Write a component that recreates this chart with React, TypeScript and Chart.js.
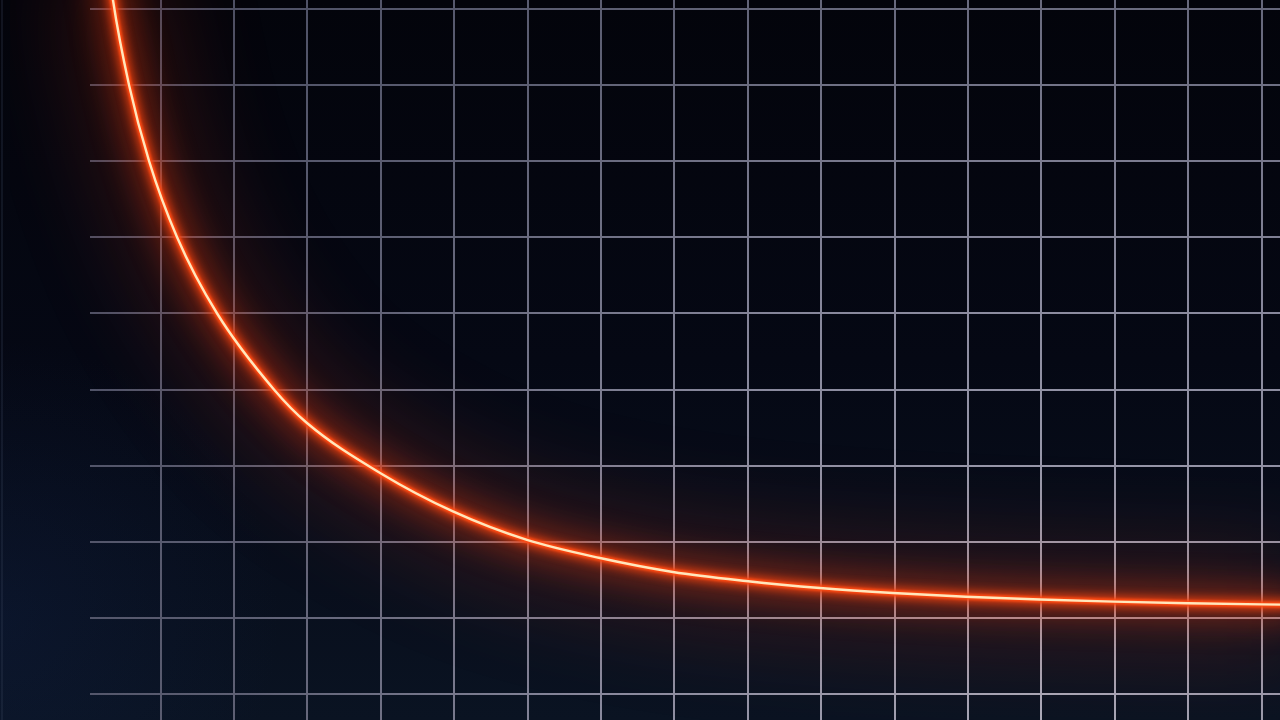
import React, { useEffect, useRef } from "react";
import { Chart, registerables } from "chart.js";

Chart.register(...registerables);

// Curve samples, in grid units
const curveX = [-0.718, -0.65, -0.432, -0.159, 0.222, 0.767, 1.543, 1.993, 3.001, 3.982, 4.99, 5.985, 6.979, 7.974, 8.982, 9.976, 10.969, 11.976, 12.984, 13.992, 15.0, 15.518];
const curveY = [9.639, 9.114, 8.003, 7.003, 6.004, 5.003, 4.003, 3.563, 2.9, 2.402, 2.028, 1.791, 1.608, 1.49, 1.398, 1.332, 1.283, 1.247, 1.219, 1.198, 1.182, 1.177];

// Grid lines
const xTicks = [0, 1, 2, 3, 4, 5, 6, 7, 8, 9, 10, 11, 12, 13, 14, 15];
const yTicks = [0, 1, 2, 3, 4, 5, 6, 7, 8, 9];
const xMin = -0.963;
const xMax = 15.25;
const yMin = -0.335;
const yMax = 9.114;

export default function App() {
  const ref = useRef<HTMLCanvasElement | null>(null);

  useEffect(() => {
    const canvas = ref.current;
    if (!canvas) return;
    const ctx = canvas.getContext("2d")!;

    const gridGrad = ctx.createRadialGradient(1050, 720, 0, 1050, 720, 1150);
    gridGrad.addColorStop(0, "#aaaaba");
    gridGrad.addColorStop(0.4, "#88889c");
    gridGrad.addColorStop(0.7, "#5e6074");
    gridGrad.addColorStop(1, "#484b60");

    const points = curveX.map((x, i) => ({ x, y: curveY[i] }));

    const bgPlugin = {
      id: "bg",
      beforeDraw(chart: any) {
        const c = chart.ctx;
        const w = chart.width;
        const h = chart.height;
        c.save();
        const g = c.createLinearGradient(0, 0, 0, h);
        g.addColorStop(0, "#03040b");
        g.addColorStop(0.5, "#050814");
        g.addColorStop(1, "#0a1322");
        c.fillStyle = g;
        c.fillRect(0, 0, w, h);
        const r = c.createRadialGradient(0, 620, 0, 0, 620, 280);
        r.addColorStop(0, "rgba(20,40,90,0.22)");
        r.addColorStop(1, "rgba(20,40,90,0)");
        c.fillStyle = r;
        c.fillRect(0, 0, w, h);
        c.strokeStyle = "rgba(60,70,95,0.35)";
        c.lineWidth = 1.5;
        c.beginPath();
        c.moveTo(2, 0);
        c.lineTo(2, h);
        c.stroke();
        c.restore();
      },
    };

    const glowPlugin = {
      id: "glow",
      beforeDatasetDraw(chart: any, args: any) {
        const ds = chart.data.datasets[args.index];
        if (ds.blurPx) {
          chart.ctx.save();
          chart.ctx.filter = `blur(${ds.blurPx}px)`;
        }
      },
      afterDatasetDraw(chart: any, args: any) {
        const ds = chart.data.datasets[args.index];
        if (ds.blurPx) chart.ctx.restore();
      },
    };

    const common = {
      data: points,
      pointRadius: 0,
      fill: false,
      cubicInterpolationMode: "monotone" as const,
      clip: 80,
    };

    const chart = new Chart(canvas, {
      type: "line",
      data: {
        datasets: [
          { ...common, borderColor: "#ffe6bc", borderWidth: 2.4, blurPx: 0.5 } as any,
          { ...common, borderColor: "#ff4a12", borderWidth: 6, blurPx: 1 } as any,
          { ...common, borderColor: "rgba(255,70,15,0.8)", borderWidth: 11, blurPx: 5 } as any,
          { ...common, borderColor: "rgba(255,60,10,0.38)", borderWidth: 30, blurPx: 16 } as any,
          { ...common, borderColor: "rgba(230,60,20,0.18)", borderWidth: 100, blurPx: 45 } as any,
        ],
      },
      options: {
        responsive: false,
        maintainAspectRatio: false,
        animation: false,
        events: [],
        layout: { padding: { left: 90, right: 0, top: 0, bottom: 0 } },
        plugins: {
          legend: { display: false },
          tooltip: { enabled: false },
        },
        scales: {
          x: {
            type: "linear",
            min: xMin,
            max: xMax,
            afterBuildTicks: (scale: any) => {
              scale.ticks = xTicks.map((value) => ({ value }));
            },
            ticks: { display: false },
            border: { display: false },
            grid: { color: gridGrad as any, lineWidth: 2, drawTicks: false },
          },
          y: {
            type: "linear",
            min: yMin,
            max: yMax,
            afterBuildTicks: (scale: any) => {
              scale.ticks = yTicks.map((value) => ({ value }));
            },
            ticks: { display: false },
            border: { display: false },
            grid: { color: gridGrad as any, lineWidth: 2, drawTicks: false },
          },
        },
      },
      plugins: [bgPlugin, glowPlugin],
    });

    return () => chart.destroy();
  }, []);

  return (
    <div style={{ position: "fixed", left: 0, top: 0, width: 1280, height: 720, background: "#04060e", overflow: "hidden" }}>
      <canvas ref={ref} width={1280} height={720} style={{ display: "block", width: 1280, height: 720 }} />
    </div>
  );
}
